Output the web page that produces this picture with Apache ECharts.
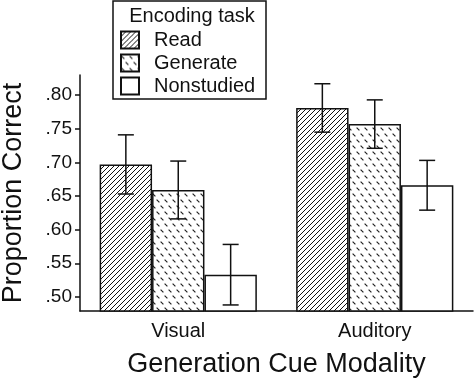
<!DOCTYPE html>
<html>
<head>
<meta charset="utf-8">
<script src="https://cdn.jsdelivr.net/npm/echarts@6/dist/echarts.min.js"></script>
<style>
html,body{margin:0;padding:0;background:#fff;}
#chart{width:474px;height:386px;}
</style>
</head>
<body>
<div id="chart"></div>
<script>
const categories = ['Visual', 'Auditory'];
const seriesNames = ['Read', 'Generate', 'Nonstudied'];
const readValues = [0.697, 0.781];
const generateValues = [0.659, 0.757];
const nonstudiedValues = [0.533, 0.666];
const readErrors = [0.044, 0.036];
const generateErrors = [0.043, 0.036];
const nonstudiedErrors = [0.045, 0.037];
const yTicks = [0.50, 0.55, 0.60, 0.65, 0.70, 0.75, 0.80];

function hatchPattern() {
  const n = 5;
  const c = document.createElement('canvas');
  c.width = n; c.height = n;
  const g = c.getContext('2d');
  g.fillStyle = '#fff'; g.fillRect(0, 0, n, n);
  g.strokeStyle = '#111'; g.lineWidth = 1;
  g.beginPath();
  g.moveTo(-1, n + 1); g.lineTo(n + 1, -1);
  g.moveTo(-n / 2 - 1, n / 2 + 1); g.lineTo(n / 2 + 1, -n / 2 - 1);
  g.moveTo(n / 2 - 1, 3 * n / 2 + 1); g.lineTo(3 * n / 2 + 1, n / 2 - 1);
  g.stroke();
  return c;
}
function dashPattern() {
  const c = document.createElement('canvas');
  c.width = 8; c.height = 12;
  const g = c.getContext('2d');
  g.fillStyle = '#fff'; g.fillRect(0, 0, 8, 12);
  g.strokeStyle = '#222'; g.lineWidth = 1.2;
  g.beginPath();
  [[2, 3], [6, 9]].forEach(p => {
    g.moveTo(p[0] - 1.4, p[1] - 1.4); g.lineTo(p[0] + 1.4, p[1] + 1.4);
  });
  g.stroke();
  return c;
}
const fills = [
  { image: hatchPattern(), repeat: 'repeat' },
  { image: dashPattern(), repeat: 'repeat' },
  '#ffffff'
];
const valueSets = [readValues, generateValues, nonstudiedValues];
const errorSets = [readErrors, generateErrors, nonstudiedErrors];

const errorData = [];
valueSets.forEach((vals, s) => {
  vals.forEach((v, i) => {
    errorData.push([i, s, v - errorSets[s][i], v + errorSets[s][i]]);
  });
});

const chart = echarts.init(document.getElementById('chart'), null, { renderer: 'canvas' });
const font = 'Liberation Sans, Arial, Helvetica, sans-serif';

const barSeries = seriesNames.map((name, s) => ({
  name: name,
  type: 'bar',
  data: valueSets[s],
  barGap: '0%',
  barCategoryGap: '20%',
  itemStyle: { color: fills[s], borderColor: '#111', borderWidth: 1.5 },
  emphasis: { disabled: true },
  z: 2
}));

const errorSeries = {
  type: 'custom',
  name: 'errors',
  data: errorData,
  z: 5,
  renderItem: function (params, api) {
    const cat = api.value(0);
    const s = api.value(1);
    const base = api.coord([cat, api.value(2)]);
    const top = api.coord([cat, api.value(3)]);
    const band = api.size([1, 0])[0];
    const groupW = band * 0.8;
    const bw = groupW / 3;
    const cx = base[0] - groupW / 2 + bw * (s + 0.5);
    const cap = 8;
    const style = { stroke: '#111', lineWidth: 1.5 };
    return {
      type: 'group',
      children: [
        { type: 'line', shape: { x1: cx, y1: top[1], x2: cx, y2: base[1] }, style: style },
        { type: 'line', shape: { x1: cx - cap, y1: top[1], x2: cx + cap, y2: top[1] }, style: style },
        { type: 'line', shape: { x1: cx - cap, y1: base[1], x2: cx + cap, y2: base[1] }, style: style }
      ]
    };
  }
};

chart.setOption({
  animation: false,
  backgroundColor: '#fff',
  textStyle: { fontFamily: font, color: '#111' },
  grid: { left: 80, right: 1, top: 75, bottom: 75, containLabel: false, outerBoundsMode: 'none' },
  legend: {
    data: seriesNames,
    orient: 'vertical',
    left: 115,
    top: 25,
    itemWidth: 18,
    itemHeight: 17,
    itemGap: 3,
    selectedMode: false,
    icon: 'rect',
    textStyle: { fontSize: 20, fontFamily: font, color: '#111', padding: [0, 0, 0, 10] }
  },
  graphic: [
    { type: 'rect', shape: { x: 113, y: 1, width: 153, height: 98 }, style: { fill: 'none', stroke: '#111', lineWidth: 1.5 }, z: 10 },
    { type: 'text', x: 192, y: 16, style: { text: 'Encoding task', font: '20px ' + font, fill: '#111', textAlign: 'center', textVerticalAlign: 'middle' }, z: 10 }
  ],
  xAxis: {
    type: 'category',
    data: categories,
    boundaryGap: true,
    axisLine: { lineStyle: { color: '#111', width: 1.5 } },
    axisTick: { show: false },
    axisLabel: { fontSize: 20, color: '#111', margin: 10, fontFamily: font },
    name: 'Generation Cue Modality',
    nameLocation: 'middle',
    nameGap: 40,
    nameTextStyle: { fontSize: 27, color: '#111', fontFamily: font }
  },
  yAxis: {
    type: 'value',
    min: 0.479,
    max: 0.83,
    splitLine: { show: false },
    axisLine: { show: true, lineStyle: { color: '#111', width: 1.5 } },
    axisTick: { show: true, length: 5, inside: false, customValues: yTicks, lineStyle: { color: '#111', width: 1.5 } },
    axisLabel: {
      customValues: yTicks,
      fontSize: 19,
      color: '#111',
      margin: 8,
      fontFamily: font,
      formatter: function (v) { return Number(v).toFixed(2).replace(/^0/, ''); }
    },
    name: 'Proportion Correct',
    nameLocation: 'middle',
    nameGap: 53,
    nameTextStyle: { fontSize: 27, color: '#111', fontFamily: font }
  },
  series: barSeries.concat([errorSeries])
});
</script>
</body>
</html>
